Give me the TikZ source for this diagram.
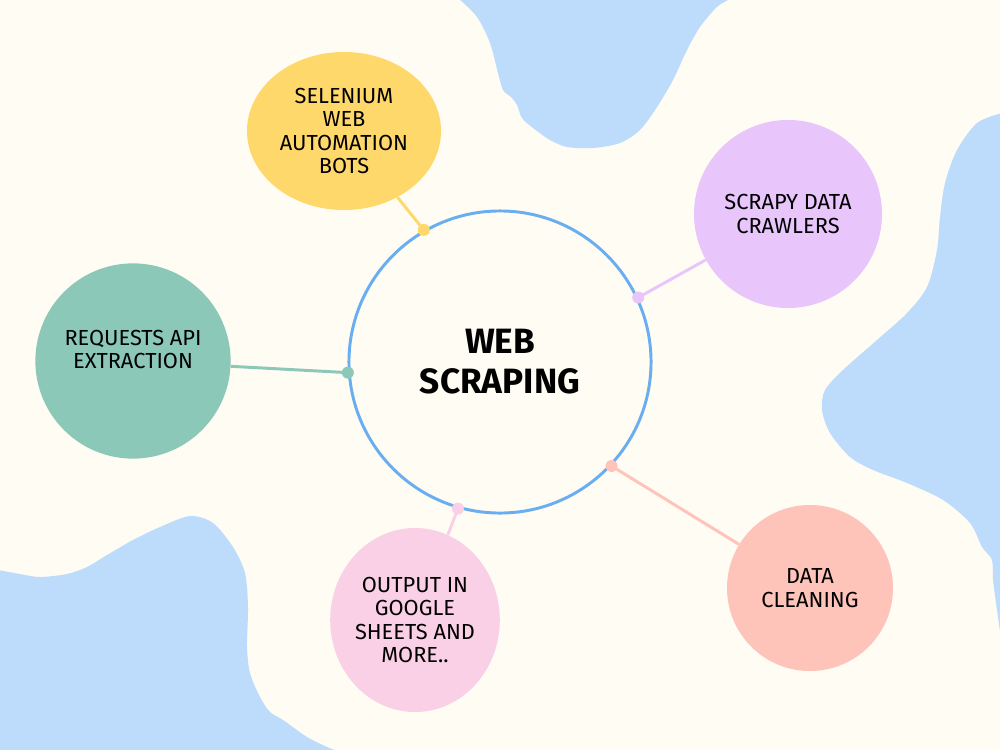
\documentclass[tikz,border=0pt]{standalone}
\usepackage{fontspec}
\setmainfont{Fira Sans}
\usetikzlibrary{shapes.geometric}
\definecolor{paper}{HTML}{FFFCF4}
\definecolor{blob}{HTML}{BDDCFC}
\definecolor{hubline}{HTML}{6AAEF2}
\definecolor{selfill}{HTML}{FFD86B}
\definecolor{scrfill}{HTML}{E8C6FB}
\definecolor{reqfill}{HTML}{8BC8B7}
\definecolor{outfill}{HTML}{F9D0E5}
\definecolor{clnfill}{HTML}{FEC3B9}

\begin{document}
\begin{tikzpicture}[x=0.025cm,y=-0.025cm,every node/.style={font=\fontsize{15.5}{16.7}\selectfont,align=center,text=black},
  topic/.style={ellipse,fill=#1,inner sep=0pt},link/.style={draw=#1,line width=2.1pt}]
\useasboundingbox (0,0) rectangle (1000,750);
\fill[paper] (0,0) rectangle (1000,750);
\begin{scope}
\clip (0,0) rectangle (1000,750);
\fill[blob] plot[smooth,tension=0.5] coordinates {(458,-2) (477,17) (490,43) (498,73) (503,90) (511,97) (517,105) (522,118) (533,128) (550,140) (567,147) (593,148) (620,143) (640,130) (657,107) (673,80) (687,50) (700,27) (717,7) (732,-2)} -- (732,-10) -- (458,-10) -- cycle;
\fill[blob] plot[smooth,tension=0.5] coordinates {(1002,113) (977,123) (957,150) (945,183) (940,217) (937,250) (927,287) (907,313) (877,340) (843,370) (825,390) (822,410) (830,433) (850,457) (873,470) (907,483) (943,500) (970,523) (982,547) (992,560) (993,580) (997,610) (1002,645)} -- (1010,645) -- (1010,113) -- cycle;
\fill[blob] plot[smooth,tension=0.5] coordinates {(-2,570) (20,574) (40,577) (67,574) (87,567) (107,555) (133,540) (160,527) (190,516) (213,523) (233,547) (245,573) (248,607) (247,647) (250,673) (260,697) (270,712) (283,720) (307,737) (327,747) (340,752)} -- (-10,760) -- cycle;
\end{scope}
\node[circle,draw=hubline,line width=2.1pt,fill=paper,minimum size=7.55cm,inner sep=0pt,font=\fontsize{25}{28.5}\bfseries] (hub) at (500,362) {WEB\\SCRAPING};
\node[topic=selfill,minimum width=4.85cm,minimum height=3.95cm] (selenium) at (344,131) {SELENIUM\\WEB\\AUTOMATION\\BOTS};
\node[topic=scrfill,minimum size=4.7cm] (scrapy) at (788,214) {SCRAPY DATA\\CRAWLERS};
\node[topic=reqfill,minimum size=4.88cm] (requests) at (133,361) {REQUESTS API\\EXTRACTION\\[0pt]};
\node[topic=outfill,minimum width=4.2cm,minimum height=4.6cm] (output) at (415,620) {OUTPUT IN\\GOOGLE\\SHEETS AND\\MORE..};
\node[topic=clnfill,minimum size=4.15cm] (cleaning) at (810,588) {DATA\\CLEANING};
\foreach \n/\a/\c in {selenium/120/selfill,scrapy/25/scrfill,requests/184/reqfill,output/254/outfill,cleaning/317/clnfill} {
  \draw[link=\c] (hub.\a) -- (\n);
  \fill[\c] (hub.\a) circle (6);
}
\end{tikzpicture}
\end{document}
